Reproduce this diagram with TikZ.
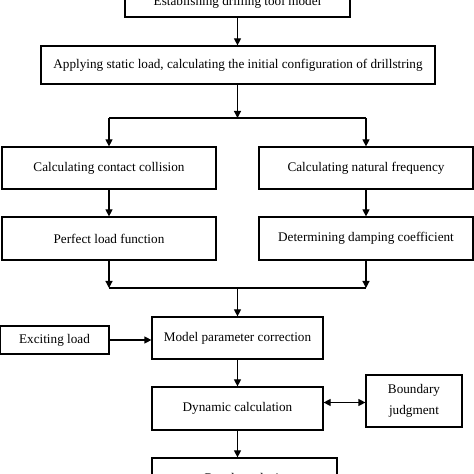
\documentclass[tikz,border=0pt]{standalone}
\usepackage{fontspec}
\setmainfont{Liberation Serif}
\usetikzlibrary{arrows.meta}

\tikzset{
  stepbox/.style={draw=black, line width=1.2pt, align=center, inner sep=2pt, font=\fontsize{13.2}{15}\selectfont},
  flow/.style={line width=1.2pt, -{Triangle[length=7pt, width=7pt]}},
  link/.style={line width=1.2pt}
}

\begin{document}
\begin{tikzpicture}[x=1pt, y=1pt]
\useasboundingbox (0,0) rectangle (474,474);

\node[stepbox, minimum width=225pt, minimum height=30pt] (model) at (237.5,472) {Establishing drilling tool model};
\node[stepbox, minimum width=394pt, minimum height=38pt] (static) at (238,409) {Applying static load, calculating the initial configuration of drillstring};

\node[stepbox, minimum width=214pt, minimum height=42pt] (contact) at (109,306) {Calculating contact collision};
\node[stepbox, minimum width=214pt, minimum height=42pt] (natural) at (366,306) {Calculating natural frequency};
\node[stepbox, minimum width=214pt, minimum height=43pt] (loadfun) at (109,235.5) {Perfect load function};
\node[stepbox, minimum width=214pt, minimum height=43pt] (damping) at (366,235.5) {Determining damping coefficient};

\node[stepbox, minimum width=171pt, minimum height=42pt] (correct) at (237.5,136) {Model parameter correction};
\node[stepbox, minimum width=109pt, minimum height=28pt] (exciting) at (54.5,134) {Exciting load};
\node[stepbox, minimum width=171pt, minimum height=43pt] (dynamic) at (237.5,65.5) {Dynamic calculation};
\node[stepbox, minimum width=96pt, minimum height=52pt] (boundary) at (414,73) {Boundary\\[6pt] judgment};
\node[stepbox, minimum width=185pt, minimum height=42pt] (result) at (244.5,-5) {Result analysis};

\coordinate (split) at (237.5,356);
\coordinate (splitL) at (109,356);
\coordinate (splitR) at (366,356);
\coordinate (merge) at (237.5,186);
\coordinate (mergeL) at (109,186);
\coordinate (mergeR) at (366,186);

\draw[flow] (model.south) -- (static.north -| model.south);
\draw[flow] (static.south -| split) -- (split);
\draw[link] (splitL) -- (splitR);
\draw[flow] (splitL) -- (contact.north);
\draw[flow] (splitR) -- (natural.north);
\draw[flow] (contact) -- (loadfun);
\draw[flow] (natural) -- (damping);
\draw[flow] (loadfun.south) -- (mergeL);
\draw[flow] (damping.south) -- (mergeR);
\draw[link] (mergeL) -- (mergeR);
\draw[flow] (merge) -- (correct.north);

\draw[flow] (exciting.east) -- (exciting.east -| correct.west);
\draw[flow] (correct) -- (dynamic);
\draw[flow, {Triangle[length=7pt, width=7pt]}-{Triangle[length=7pt, width=7pt]}] (dynamic.east |- 0,71.5) -- (boundary.west |- 0,71.5);
\draw[flow] (dynamic.south) -- (result.north -| dynamic.south);
\end{tikzpicture}
\end{document}
